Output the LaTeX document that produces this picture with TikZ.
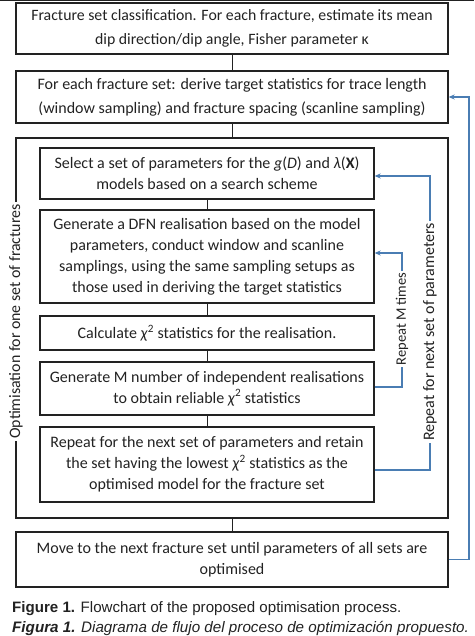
\documentclass[tikz,border=0pt]{standalone}
\usepackage{fontspec}
\setmainfont{Carlito}
\newfontfamily\capfont{Liberation Sans}
\usetikzlibrary{arrows.meta}
\definecolor{loopblue}{HTML}{4A7DB3}
\definecolor{ink}{HTML}{222222}
\tikzset{
  box/.style={draw=ink, line width=1.3pt, align=center, text=ink, inner sep=0pt,
    font=\fontsize{16}{21}\selectfont},
  link/.style={draw=ink, line width=1pt},
  loop/.style={draw=loopblue, line width=1.2pt, -{Stealth[length=6pt,width=5pt]}},
  sidelabel/.style={rotate=90, fill=white, inner sep=2pt, text=ink},
}
\begin{document}
\begin{tikzpicture}[x=1pt,y=-1pt]
\useasboundingbox (0,0) rectangle (474,636);
\fill[ink] (0,0) rectangle (474,1.5);
% outer boxes
\node[box, minimum width=432pt, minimum height=51pt, font=\fontsize{15.8}{24}\selectfont] (b1) at (232,28.5)
  {Fracture set classification. For each fracture, estimate its mean\\dip direction/dip angle, Fisher parameter κ};
\node[box, minimum width=432pt, minimum height=52pt, font=\fontsize{16}{24}\selectfont] (b2) at (232,97)
  {For each fracture set: derive target statistics for trace length\\(window sampling) and fracture spacing (scanline sampling)};
\node[draw=ink, line width=1.3pt, minimum width=432pt, minimum height=380pt, inner sep=0pt] (cont) at (232,328) {};
% inner boxes
\node[box, minimum width=334pt, minimum height=51pt] (bA) at (207,173.5)
  {Select a set of parameters for the \textit{g}(\textit{D}) and \textit{λ}(\textbf{X})\\models based on a search scheme};
\node[box, minimum width=334pt, minimum height=93pt] (bB) at (207,256.5)
  {Generate a DFN realisation based on the model\\parameters, conduct window and scanline\\samplings, using the same sampling setups as\\those used in deriving the target statistics};
\node[box, minimum width=334pt, minimum height=34pt] (bC) at (207,333)
  {Calculate \textit{χ}\textsuperscript{2} statistics for the realisation.};
\node[box, minimum width=334pt, minimum height=53pt] (bD) at (207,388.5)
  {Generate M number of independent realisations\\to obtain reliable \textit{χ}\textsuperscript{2} statistics};
\node[box, minimum width=334pt, minimum height=75pt] (bE) at (207,464.5)
  {Repeat for the next set of parameters and retain\\the set having the lowest \textit{χ}\textsuperscript{2} statistics as the\\optimised model for the fracture set};
\node[box, minimum width=432pt, minimum height=55pt] (bF) at (232,559.5)
  {Move to the next fracture set until parameters of all sets are\\optimised};
% connectors
\draw[link] (b1) -- (b2);
\draw[link] (b2) -- (cont);
\draw[link] (bA) -- (bB);
\draw[link] (bB) -- (bC);
\draw[link] (bC) -- (bD);
\draw[link] (bD) -- (bE);
\draw[link] (cont) -- (bF);
% loops
\coordinate (mturn) at (402,387);
\coordinate (pturn) at (430,470);
\coordinate (oturn) at (469,559.5);
\draw[loop] (bD.east |- mturn) -- (mturn) -- (mturn |- 253,253) -- (bB.east |- 0,253);
\draw[loop] (bE.east |- pturn) -- (pturn) -- (pturn |- 176,176) -- (bA.east |- 0,176);
\draw[loop] (bF.east) -- (oturn) -- (oturn |- b2.east) -- (b2.east);
% side labels
\node[sidelabel, font=\fontsize{14.5}{17}\selectfont] (lm) at (402,319) {Repeat M times};
\node[sidelabel, font=\fontsize{16}{18}\selectfont] (lp) at (430,332) {Repeat for next set of parameters};
\node[sidelabel, font=\fontsize{15.9}{18}\selectfont] (lo) at (16,321.5) {Optimisation for one set of fractures};
% caption
\node[anchor=base west, inner sep=0pt, font=\capfont\fontsize{15.1}{17}\selectfont, text=ink] (cap1) at (12,612.5)
  {\textbf{Figure 1.} Flowchart of the proposed optimisation process.};
\node[anchor=base west, inner sep=0pt, font=\capfont\fontsize{15.2}{17}\selectfont\itshape, text=ink] (cap2) at (12,632)
  {\textbf{Figura 1.} Diagrama de flujo del proceso de optimización propuesto.};
\end{tikzpicture}
\end{document}
